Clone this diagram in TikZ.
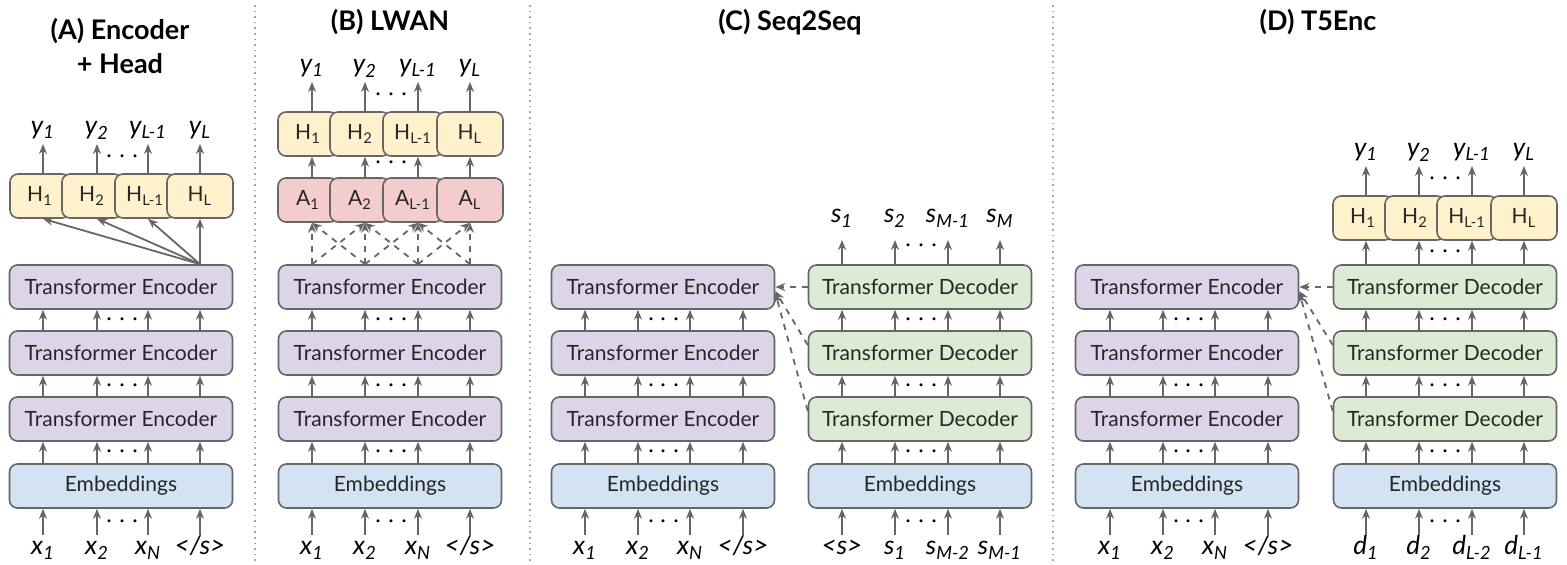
\documentclass[tikz,border=0pt]{standalone}
\usepackage{fontspec}
\setmainfont{Lato}
\usetikzlibrary{calc,arrows.meta}
\definecolor{bord}{HTML}{666666}
\definecolor{cenc}{HTML}{DDD4EA}
\definecolor{cemb}{HTML}{D3E3F3}
\definecolor{cdec}{HTML}{DCEBD3}
\definecolor{chead}{HTML}{FFF1CC}
\definecolor{catt}{HTML}{F3CCCD}
\newcommand\lab[2]{\textit{#1\textsubscript{#2}}}
\newcommand\hsub[2]{#1\textsubscript{#2}}
\newcommand\link[3]{%
 \foreach \c in {1,...,4}{\draw[arr] (#2.north -| #1c\c) -- (#3.south -| #1c\c);}
 \node[dots] at ($(#2.north -| #1m)!0.5!(#3.south -| #1m)$) {$\cdots$};}
\begin{document}
\begin{tikzpicture}[x=0.5pt,y=-0.5pt,
 box/.style={draw=bord,rounded corners=4pt,line width=0.8pt,minimum height=22pt,inner sep=0pt,font=\fontsize{10.5}{12}\selectfont,text=black!85},
 wide/.style={box,minimum width=111.5pt},
 enc/.style={wide,fill=cenc},
 dec/.style={wide,fill=cdec},
 emb/.style={wide,fill=cemb},
 head/.style={box,fill=chead,minimum width=30pt},
 att/.style={box,fill=catt,minimum width=30pt},
 arr/.style={draw=bord,line width=0.9pt,-{Stealth[length=5pt,width=4pt]}},
 darr/.style={arr,dashed},
 dots/.style={font=\bfseries\fontsize{14}{14}\selectfont,inner sep=0pt},
 lbl/.style={font=\fontsize{13}{15}\selectfont,inner sep=1pt},
 ttl/.style={font=\bfseries\fontsize{13.5}{17}\selectfont,align=center},
 sep/.style={draw=gray!70,dotted,line width=0.8pt}]
\useasboundingbox (0,0) rectangle (1567,565);
\draw[sep] (255,5) -- (255,565);
\draw[sep] (530,5) -- (530,565);
\draw[sep] (1053,5) -- (1053,565);
% column coordinates
\foreach \p/\a/\b/\c/\d in {A/43/97/148/200, B/312/365/418/470, C/585/638/690/743, E/842/895/948/1000, D/1110/1163/1215/1268, F/1366/1419/1472/1524}{
 \coordinate (\p c1) at (\a,0); \coordinate (\p c2) at (\b,0); \coordinate (\p c3) at (\c,0); \coordinate (\p c4) at (\d,0);
 \coordinate (\p m) at ({(\b+\c)/2},0);}
% titles
\node[ttl] (tA) at (120,46) {(A) Encoder\\+ Head};
\node[ttl] (tB) at (390,22) {(B) LWAN};
\node[ttl] (tC) at (790,22) {(C) Seq2Seq};
\node[ttl] (tD) at (1318,22) {(D) T5Enc};
% encoder stacks
\foreach \p/\x in {A/121, B/390, C/663, D/1187}{
 \node[emb] (\p0) at (\x,486) {Embeddings};
 \node[enc] (\p3) at (\x,419) {Transformer Encoder};
 \node[enc] (\p2) at (\x,353) {Transformer Encoder};
 \node[enc] (\p1) at (\x,287) {Transformer Encoder};
 \link{\p}{\p0}{\p3}\link{\p}{\p3}{\p2}\link{\p}{\p2}{\p1}}
% decoder stacks
\foreach \p/\x in {E/920, F/1445}{
 \node[emb] (\p0) at (\x,486) {Embeddings};
 \node[dec] (\p3) at (\x,419) {Transformer Decoder};
 \node[dec] (\p2) at (\x,353) {Transformer Decoder};
 \node[dec] (\p1) at (\x,287) {Transformer Decoder};
 \link{\p}{\p0}{\p3}\link{\p}{\p3}{\p2}\link{\p}{\p2}{\p1}}
% inputs
\foreach \p in {A,B,C,D}{
 \node[lbl,anchor=base] (\p i1) at ($(\p c1)+(0,555)$) {\lab{x}{1}};
 \node[lbl,anchor=base] (\p i2) at ($(\p c2)+(0,555)$) {\lab{x}{2}};
 \node[lbl,anchor=base] (\p i3) at ($(\p c3)+(0,555)$) {\lab{x}{N}};
 \node[lbl,anchor=base] (\p i4) at ($(\p c4)+(0,555)$) {\textit{</s>}};}
\node[lbl,anchor=base] (Ei1) at ($(Ec1)+(0,555)$) {\textit{<s>}};
\node[lbl,anchor=base] (Ei2) at ($(Ec2)+(0,555)$) {\lab{s}{1}};
\node[lbl,anchor=base] (Ei3) at ($(Ec3)+(0,555)$) {\lab{s}{M-2}};
\node[lbl,anchor=base] (Ei4) at ($(Ec4)+(0,555)$) {\lab{s}{M-1}};
\node[lbl,anchor=base] (Fi1) at ($(Fc1)+(0,555)$) {\lab{d}{1}};
\node[lbl,anchor=base] (Fi2) at ($(Fc2)+(0,555)$) {\lab{d}{2}};
\node[lbl,anchor=base] (Fi3) at ($(Fc3)+(0,555)$) {\lab{d}{L-2}};
\node[lbl,anchor=base] (Fi4) at ($(Fc4)+(0,555)$) {\lab{d}{L-1}};
\foreach \p in {A,B,C,D,E,F}{
 \foreach \c in {1,...,4}{\draw[arr] ($(\p c\c)+(0,535)$) -- (\p0.south -| \p c\c);}
 \node[dots] at ($(\p m)+(0,522)$) {$\cdots$};}
% heads
\foreach \p/\y/\a/\b/\c/\d in {A/196/40/92/145/200, B/134/308/360/413/470, F/218/1363/1415/1467/1524}{
 \node[head] (\p h1) at (\a,\y) {\hsub{H}{1}};
 \node[head] (\p h2) at (\b,\y) {\hsub{H}{2}};
 \node[head] (\p h3) at (\c,\y) {\hsub{H}{L-1}};
 \node[head,minimum width=33pt] (\p h4) at (\d,\y) {\hsub{H}{L}};
 \coordinate (\p ty) at (0,\y-66);
 \node[lbl] (\p o1) at (\p c1 |- \p ty) {\lab{y}{1}};
 \node[lbl] (\p o2) at (\p c2 |- \p ty) {\lab{y}{2}};
 \node[lbl] (\p o3) at (\p c3 |- \p ty) {\lab{y}{L-1}};
 \node[lbl] (\p o4) at (\p c4 |- \p ty) {\lab{y}{L}};
 \foreach \c in {1,...,4}{\draw[arr] (\p h1.north -| \p c\c) -- ($(\p c\c |- \p ty)+(0,14)$);}
 \node[dots] at ($(\p m |- \p ty)+(0,27)$) {$\cdots$};}
% A head arrows
\foreach \c in {1,...,4}{\draw[arr] (A1.north -| Ac4) -- (Ah1.south -| Ac\c);}
% B attention
\node[att] (Ba1) at (308,200) {\hsub{A}{1}};
\node[att] (Ba2) at (360,200) {\hsub{A}{2}};
\node[att] (Ba3) at (413,200) {\hsub{A}{L-1}};
\node[att,minimum width=33pt] (Ba4) at (470,200) {\hsub{A}{L}};
\foreach \c in {1,...,4}{\draw[arr] (Ba1.north -| Bc\c) -- (Bh1.south -| Bc\c);}
\node[dots] at ($(Bm)+(0,163)$) {$\cdots$};
\foreach \s/\t in {1/1,1/2,2/1,2/2,2/3,3/2,3/3,3/4,4/3,4/4}{
 \draw[darr] (B1.north -| Bc\s) -- (Ba1.south -| Bc\t);}
% C outputs
\node[lbl] (Co1) at ($(Ec1)+(0,218)$) {\lab{s}{1}};
\node[lbl] (Co2) at ($(Ec2)+(0,218)$) {\lab{s}{2}};
\node[lbl] (Co3) at ($(Ec3)+(0,218)$) {\lab{s}{M-1}};
\node[lbl] (Co4) at ($(Ec4)+(0,218)$) {\lab{s}{M}};
\foreach \c in {1,...,4}{\draw[arr] (E1.north -| Ec\c) -- ($(Ec\c)+(0,240)$);}
\node[dots] at ($(Em)+(0,246)$) {$\cdots$};
% D heads link
\foreach \c in {1,...,4}{\draw[arr] (F1.north -| Fc\c) -- (Fh1.south -| Fc\c);}
\node[dots] at ($(Fm)+(0,252)$) {$\cdots$};
% cross attention
\foreach \e/\d in {C1/E1, D1/F1}{
 \draw[darr] (\d.west) -- (\e.east);
 \draw[darr] ($(\d.west)+(0,58)$) -- ($(\e.east)+(0,4)$);
 \draw[darr] ($(\d.west)+(0,124)$) -- ($(\e.east)+(0,6)$);}
\end{tikzpicture}
\end{document}
